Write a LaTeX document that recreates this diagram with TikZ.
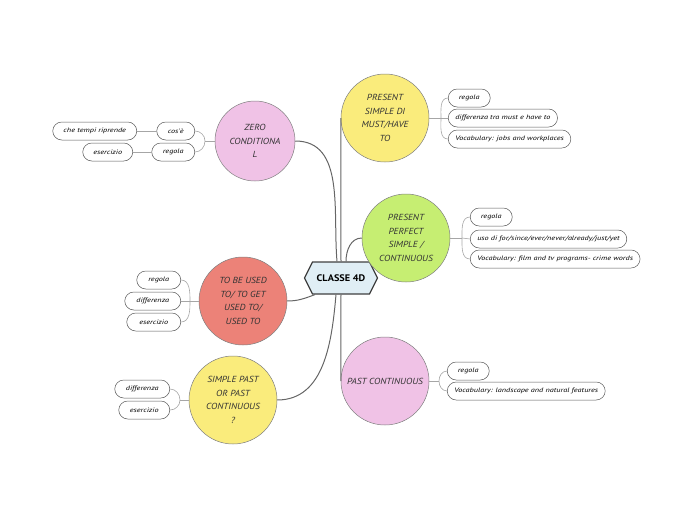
\documentclass[tikz,border=0pt]{standalone}
\usepackage{fontspec}
\setmainfont{PT Sans}
\newfontfamily\leaffont[FakeStretch=1.28]{PT Sans}
\newfontfamily\topicfont[FakeStretch=1.08]{PT Sans}
\usetikzlibrary{shapes.symbols}
\definecolor{cyel}{HTML}{FAEC7C}
\definecolor{cgrn}{HTML}{C6EE72}
\definecolor{cpnk}{HTML}{F0C2E6}
\definecolor{cred}{HTML}{EC8278}
\definecolor{cblu}{HTML}{E0EEF5}
\tikzset{
 topic/.style={circle, draw=black!50, line width=0.5pt, minimum size=88pt, inner sep=0pt, align=center, font=\topicfont\itshape\fontsize{8.8}{13.5}\selectfont, text=black!80},
 leaf/.style={draw=black!65, line width=0.5pt, rounded corners=9pt, minimum height=18pt, minimum width=42pt, inner xsep=7pt, inner ysep=0pt, font=\leaffont\itshape\fontsize{6.4}{7}\selectfont},
 main/.style={draw=black!60, line width=1pt},
 twig/.style={draw=black!35, line width=0.6pt},
 rootbox/.style={signal, signal to=east and west, signal pointer angle=127, draw=black!75, line width=1.2pt, fill=cblu, minimum width=73pt, minimum height=32pt, inner sep=2pt, font=\topicfont\bfseries\fontsize{9.5}{10}\selectfont}
}
\begin{document}
\begin{tikzpicture}[x=1pt,y=-1pt]
\useasboundingbox (0,0) rectangle (697,520);
% root
\node[rootbox] (root) at (341,278) {CLASSE 4D};
% topics
\node[topic, fill=cyel] (ps) at (385,118) {PRESENT\\SIMPLE DI\\MUST/HAVE\\TO};
\node[topic, fill=cgrn] (pp) at (406,238) {PRESENT\\PERFECT\\SIMPLE /\\CONTINUOUS};
\node[topic, fill=cpnk] (pc) at (385,381) {PAST CONTINUOUS};
\node[topic, fill=cpnk, minimum size=80pt] (zc) at (255,141) {ZERO\\CONDITIONA\\L};
\node[topic, fill=cred] (tbu) at (243,301) {TO BE USED\\TO/ TO GET\\USED TO/\\USED TO};
\node[topic, fill=cyel] (sp) at (233,400) {SIMPLE PAST\\OR PAST\\CONTINUOUS\\?};
% main connectors
\draw[main] (root.north) -- (ps.west);
\draw[main] (root.south) -- (pc.west);
\draw[main] ([xshift=5pt]root.north) to[out=90,in=180] (pp.west);
\draw[main] (zc.east) to[out=0,in=95] ([xshift=-4pt]root.north);
\draw[main] (tbu.east) to[out=0,in=200] ([xshift=-26pt]root.south);
\draw[main] (sp.east) to[out=0,in=-95] ([xshift=-5pt]root.south);
% present simple leaves
\node[leaf, anchor=west] (ps1) at (448,98) {regola};
\node[leaf, anchor=west] (ps2) at (448,118) {differenza tra must e have to};
\node[leaf, anchor=west] (ps3) at (448,139) {Vocabulary: jobs and workplaces};
\coordinate (jps) at (441,118);
\draw[twig] (ps.east) -- (jps);
\draw[twig] (jps) to[out=90,in=180] (ps1.west);
\draw[twig] (jps) -- (ps2.west);
\draw[twig] (jps) to[out=-90,in=180] (ps3.west);
% present perfect leaves
\node[leaf, anchor=west] (pp1) at (470,217) {regola};
\node[leaf, anchor=west] (pp2) at (470,239) {uso di for/since/ever/never/already/just/yet};
\node[leaf, anchor=west] (pp3) at (470,259) {Vocabulary: film and tv programs- crime words};
\coordinate (jpp) at (462,238);
\draw[twig] (pp.east) -- (jpp);
\draw[twig] (jpp) to[out=90,in=180] (pp1.west);
\draw[twig] (jpp) to[out=0,in=180] (pp2.west);
\draw[twig] (jpp) to[out=-90,in=180] (pp3.west);
% past continuous leaves
\node[leaf, anchor=west] (pc1) at (447,371) {regola};
\node[leaf, anchor=west] (pc2) at (447,391) {Vocabulary: landscape and natural features};
\coordinate (jpc) at (439,381);
\draw[twig] (pc.east) -- (jpc);
\draw[twig] (jpc) to[out=90,in=180] (pc1.west);
\draw[twig] (jpc) to[out=-90,in=180] (pc2.west);
% zero conditional leaves
\node[leaf, anchor=east, minimum width=38pt] (zc1) at (195,131) {cos'è};
\node[leaf, anchor=east, minimum width=43pt] (zc2) at (195,152) {regola};
\node[leaf, anchor=east, minimum width=84pt] (zc11) at (137,131) {che tempi riprende};
\node[leaf, anchor=east, minimum width=50pt] (zc21) at (133,152) {esercizio};
\coordinate (jzc) at (205,141);
\draw[twig] (zc.west) -- (jzc);
\draw[twig] (jzc) to[out=90,in=0] (zc1.east);
\draw[twig] (jzc) to[out=-90,in=0] (zc2.east);
\draw[twig] (zc1.west) -- (zc11.east);
\draw[twig] (zc2.west) -- (zc21.east);
% to be used leaves
\node[leaf, anchor=east, minimum width=44pt] (tb1) at (181,280) {regola};
\node[leaf, anchor=east, minimum width=56pt] (tb2) at (181,301) {differenza};
\node[leaf, anchor=east, minimum width=54pt] (tb3) at (181,322) {esercizio};
\coordinate (jtb) at (190,301);
\draw[twig] (tbu.west) -- (jtb);
\draw[twig] (jtb) to[out=90,in=0] (tb1.east);
\draw[twig] (jtb) -- (tb2.east);
\draw[twig] (jtb) to[out=-90,in=0] (tb3.east);
% simple past leaves
\node[leaf, anchor=east, minimum width=55pt] (sp1) at (170,389) {differenza};
\node[leaf, anchor=east, minimum width=51pt] (sp2) at (170,410) {esercizio};
\coordinate (jsp) at (180,400);
\draw[twig] (sp.west) -- (jsp);
\draw[twig] (jsp) to[out=90,in=0] (sp1.east);
\draw[twig] (jsp) to[out=-90,in=0] (sp2.east);
\end{tikzpicture}
\end{document}
